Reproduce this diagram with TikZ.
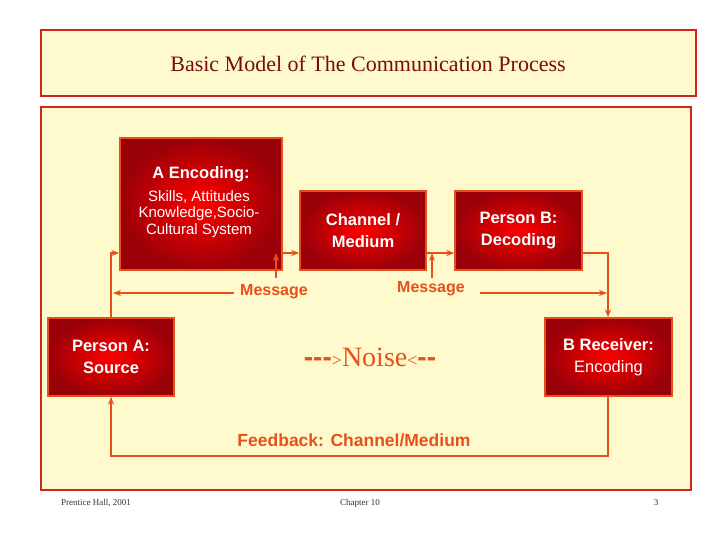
\documentclass[tikz,border=0pt]{standalone}
\usepackage{fontspec}
\setmainfont{Liberation Serif}
\newfontfamily\sansb{Liberation Sans}
\usetikzlibrary{arrows.meta}
\definecolor{cream}{HTML}{FFFACD}
\definecolor{ln}{HTML}{E8501A}
\definecolor{bx}{HTML}{D0261C}
\definecolor{dred}{HTML}{9A0008}
\definecolor{titc}{HTML}{7A0A10}
\begin{document}
\begin{tikzpicture}[x=1pt,y=-1pt,
  box/.style={draw=ln,line width=1.5pt,inner sep=2pt,align=center,text=white,
    font=\sansb\bfseries\fontsize{16.5}{22}\selectfont,
    shading=radial,inner color=red,outer color=dred},
  con/.style={draw=ln,line width=2pt,-{Stealth[length=8pt,width=6pt]}},
  lbl/.style={text=ln,font=\sansb\bfseries\fontsize{16}{18}\selectfont},
  foot/.style={font=\fontsize{9}{10}\selectfont,text=black!80}]
\useasboundingbox (0,0) rectangle (720,540);
\fill[white] (0,0) rectangle (720,540);
\draw[bx,fill=cream,line width=1.5pt] (41,30) rectangle (696,96);
\node[text=titc,font=\fontsize{22}{24}\selectfont] (title) at (368,64) {Basic Model of The Communication Process};
\draw[bx,fill=cream,line width=2.5pt] (41,107) rectangle (691,490);
\node[box,minimum width=162,minimum height=132] (enc) at (201,204) {};
\node[text=white,font=\sansb\bfseries\fontsize{16.5}{18}\selectfont] (enc1) at (201,174) {A Encoding:};
\node[text=white,font=\sansb\fontsize{15}{18}\selectfont,align=center] (enc2) at (199,214) {Skills, Attitudes\\[-2pt]Knowledge,Socio-\\[-1pt]Cultural System};
\node[box,minimum width=126,minimum height=79] (chan) at (363,230.5) {Channel /\\Medium};
\node[box,minimum width=127,minimum height=79] (pb) at (518.5,230.5) {Person B:\\Decoding};
\node[box,minimum width=126,minimum height=78] (pa) at (111,357) {Person A:\\Source};
\node[box,minimum width=127,minimum height=78] (br) at (608.5,357) {B Receiver:\\{\fontseries{m}\selectfont Encoding}};
\coordinate (c1) at (111,253);
\coordinate (c2) at (608,253);
\coordinate (c3) at (608,456);
\coordinate (c4) at (111,456);
\draw[con] (pa.north -| c1) -- (c1) -- (c1 -| enc.west);
\draw[con] (enc.east |- c1) -- (c1 -| chan.west);
\draw[con] (chan.east |- c1) -- (c1 -| pb.west);
\draw[con] (pb.east |- c1) -- (c2) -- (br.north -| c2);
\draw[con] (br.south -| c3) -- (c3) -- (c4) -- (pa.south -| c4);
\node[lbl] (m1) at (274,292) {Message};
\node[lbl] (m2) at (431,289) {Message};
\coordinate (u1) at (276,278); \coordinate (u2) at (432,278);
\draw[con] (u1) -- (276,253);
\draw[con] (u2) -- (432,253);
\draw[con] (234,293) -- (113,293);
\draw[con] (480,293) -- (607,293);
\node[text=ln,font=\fontsize{28}{30}\selectfont] (noise) at (370,357) {{\sansb\bfseries -{}-{}-}{\fontsize{18}{20}\selectfont >}Noise{\fontsize{18}{20}\selectfont <}{\sansb\bfseries -{}-}};
\node[lbl,font=\sansb\bfseries\fontsize{17.5}{20}\selectfont] (fb) at (354,440) {Feedback: Channel/Medium};
\node[foot] (f1) at (96,503) {Prentice Hall, 2001};
\node[foot] (f2) at (360,503) {Chapter 10};
\node[foot] (f3) at (656,503) {3};
\end{tikzpicture}
\end{document}
